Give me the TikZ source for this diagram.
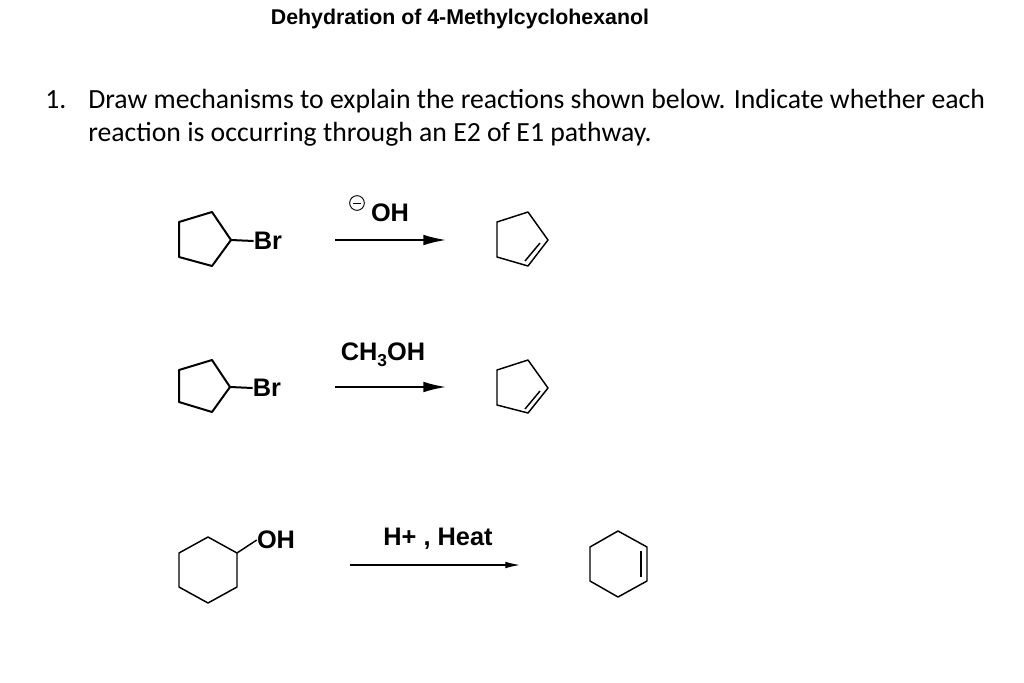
\documentclass[tikz,border=0pt]{standalone}
\usepackage{fontspec}
\setmainfont{Liberation Sans}
\newfontfamily\calfont{Carlito}
\usetikzlibrary{arrows.meta}
\begin{document}
\begin{tikzpicture}[x=0.75pt,y=-0.75pt,
 bond/.style={line width=1.5pt,line join=round},
 thin/.style={line width=1.1pt,line join=round},
 lab/.style={font=\bfseries\fontsize{19}{22}\selectfont,inner sep=0pt},
 qtext/.style={font=\calfont\fontsize{20.8}{25}\selectfont,anchor=base west,inner sep=0pt},
 rarrow/.style={line width=1.3pt,-{Latex[length=17pt,width=8pt]}}]
\useasboundingbox (0,0) rectangle (1024,682);
\node[font=\bfseries\fontsize{16}{19}\selectfont] (title) at (460,19) {Dehydration of 4-Methylcyclohexanol};
\node[qtext] (n1) at (45,108) {1.};
\node[qtext] (q1) at (88,108) {Draw mechanisms to explain the reactions shown below. Indicate whether each};
\node[qtext] (q2) at (88,141) {reaction is occurring through an E2 of E1 pathway.};
% row 1
\draw[bond] (179,222)--(212,212)--(231,240)--(212,266)--(179,257)--cycle;
\node[lab] (br1) at (268,241) {Br};
\draw[bond] (231,240)--(br1.west);
\coordinate (a1s) at (335,240); \coordinate (a1e) at (446,240);
\draw[rarrow] (a1s)--(a1e);
\node[lab] (oh1) at (390,213) {OH};
\node[circle,draw,line width=0.7pt,minimum size=11pt,inner sep=0pt] (m1) at (357,203) {};
\draw[line width=0.7pt] ([xshift=-2.8pt]m1.center)--([xshift=2.8pt]m1.center);
\draw[thin] (497,222)--(528,212)--(548,240)--(528,266)--(497,257)--cycle;
\draw[thin] (540,243)--(525,261);
% row 2
\draw[bond] (179,370)--(212,360)--(230,387)--(212,412)--(179,402)--cycle;
\node[lab] (br2) at (267,388) {Br};
\draw[bond] (230,387)--(br2.west);
\coordinate (a2s) at (335,387); \coordinate (a2e) at (446,387);
\draw[rarrow] (a2s)--(a2e);
\node[lab] (r2) at (383,355) {CH\raisebox{-0.25em}{\fontsize{13}{15}\selectfont 3}OH};
\draw[thin] (497,370)--(528,360)--(548,388)--(528,413)--(497,405)--cycle;
\draw[thin] (540,391)--(525,409);
% row 3
\draw[thin] (179,553)--(208,537)--(237,553)--(237,587)--(208,603)--(179,587)--cycle;
\node[lab] (oh3) at (276,540) {OH};
\draw[thin] (237,553)--(oh3.west);
\coordinate (a3s) at (350,565); \coordinate (a3e) at (520,565);
\draw[line width=0.9pt,-{Latex[length=11pt,width=5pt]}] (a3s)--(a3e);
\node[lab] (r3) at (438,539) {H+ , Heat};
\draw[thin] (618,531)--(647,547)--(647,581)--(618,597)--(590,581)--(590,547)--cycle;
\draw[thin] (641,551)--(641,577);
\end{tikzpicture}
\end{document}
